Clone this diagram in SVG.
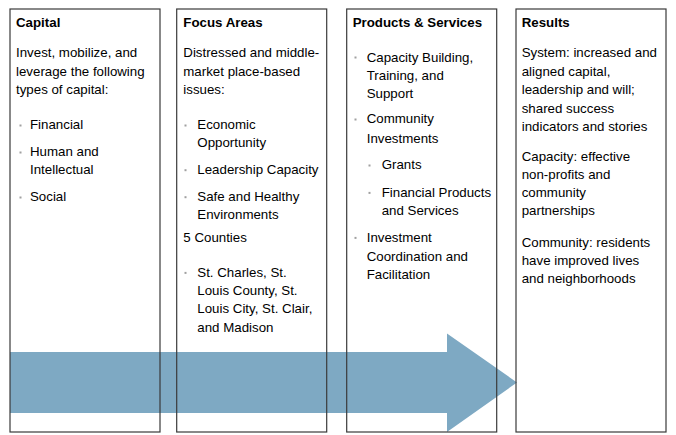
<svg xmlns="http://www.w3.org/2000/svg" width="676" height="435" viewBox="0 0 676 435">
<style>
text{font-family:"Liberation Sans",Arial,sans-serif;font-size:13.3px;fill:#000}
.h{font-weight:bold}
.box{fill:none;stroke:#3a3a3a;stroke-width:1.2}
.b{fill:#a0a0a0}
</style>
<rect x="0" y="0" width="676" height="435" fill="#fff"/>
<g id="connectors">
<polygon points="10,352 447,352 447,333.5 517,382.5 447,432 447,413 10,413" fill="#7ea9c3"/>
</g>
<g id="capital">
<rect class="box" x="10" y="9" width="150" height="423"/>
<text class="h" x="16" y="27">Capital</text>
<text x="16" y="57.3">Invest, mobilize, and</text>
<text x="16" y="75.8">leverage the following</text>
<text x="16" y="94.3">types of capital:</text>
<rect class="b" x="19.5" y="124.5" width="2" height="2"/><text x="30" y="129.3">Financial</text>
<rect class="b" x="19.5" y="151.5" width="2" height="2"/><text x="30" y="156.3">Human and</text>
<text x="30" y="174.3">Intellectual</text>
<rect class="b" x="19.5" y="196.5" width="2" height="2"/><text x="30" y="201.3">Social</text>
</g>
<g id="focus">
<rect class="box" x="176.7" y="9" width="150" height="423"/>
<text class="h" x="183.3" y="27">Focus Areas</text>
<text x="183.3" y="57.3">Distressed and middle-</text>
<text x="183.3" y="75.8">market place-based</text>
<text x="183.3" y="94.3">issues:</text>
<rect class="b" x="184.5" y="124.5" width="2" height="2"/><text x="197.3" y="129.3">Economic</text>
<text x="197.3" y="147">Opportunity</text>
<rect class="b" x="184.5" y="169.2" width="2" height="2"/><text x="197.3" y="174">Leadership Capacity</text>
<rect class="b" x="184.5" y="196.2" width="2" height="2"/><text x="197.3" y="201">Safe and Healthy</text>
<text x="197.3" y="218.5">Environments</text>
<text x="183.3" y="241.7">5 Counties</text>
<rect class="b" x="184.5" y="271.9" width="2" height="2"/><text x="197.3" y="276.7">St. Charles, St.</text>
<text x="197.3" y="295">Louis County, St.</text>
<text x="197.3" y="313.3">Louis City, St. Clair,</text>
<text x="197.3" y="331.7">and Madison</text>
</g>
<g id="products">
<rect class="box" x="346.7" y="9" width="150" height="423"/>
<text class="h" x="352.7" y="27">Products &amp; Services</text>
<rect class="b" x="354.5" y="56.5" width="2" height="2"/><text x="366.7" y="61.5">Capacity Building,</text>
<text x="366.7" y="79.8">Training, and</text>
<text x="366.7" y="98">Support</text>
<rect class="b" x="354.5" y="118.5" width="2" height="2"/><text x="366.7" y="123.3">Community</text>
<text x="366.7" y="143.3">Investments</text>
<rect class="b" x="368.5" y="164.5" width="2" height="2"/><text x="381.7" y="169.3">Grants</text>
<rect class="b" x="368.5" y="191.9" width="2" height="2"/><text x="381.7" y="196.7">Financial Products</text>
<text x="381.7" y="215">and Services</text>
<rect class="b" x="354.5" y="236.9" width="2" height="2"/><text x="366.7" y="241.7">Investment</text>
<text x="366.7" y="260.5">Coordination and</text>
<text x="366.7" y="278.5">Facilitation</text>
</g>
<g id="results">
<rect class="box" x="516" y="9" width="150" height="423"/>
<text class="h" x="521.7" y="27">Results</text>
<text x="521.7" y="57.3">System: increased and</text>
<text x="521.7" y="75.8">aligned capital,</text>
<text x="521.7" y="94.3">leadership and will;</text>
<text x="521.7" y="112.5">shared success</text>
<text x="521.7" y="130.7">indicators and stories</text>
<text x="521.7" y="160.7">Capacity: effective</text>
<text x="521.7" y="179">non-profits and</text>
<text x="521.7" y="197">community</text>
<text x="521.7" y="215">partnerships</text>
<text x="521.7" y="246.7">Community: residents</text>
<text x="521.7" y="265">have improved lives</text>
<text x="521.7" y="283">and neighborhoods</text>
</g>
</svg>
